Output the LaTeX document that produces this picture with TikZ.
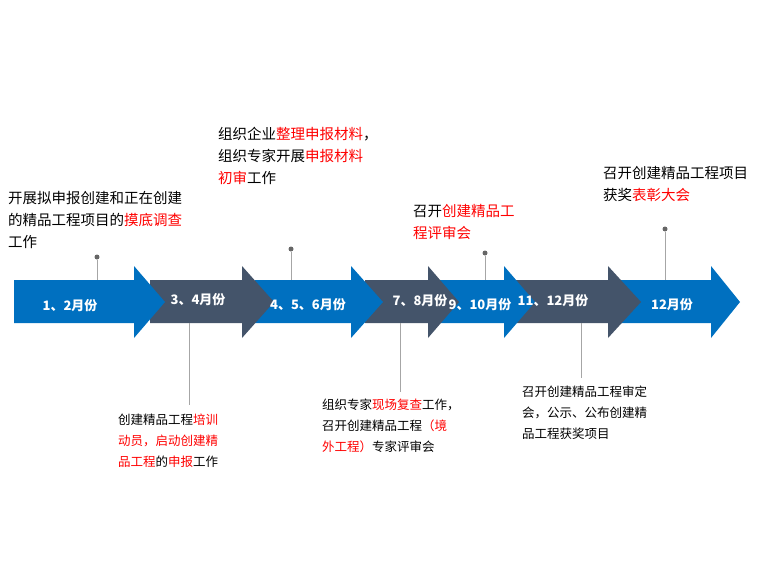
\documentclass[tikz,border=0pt]{standalone}
\usepackage{fontspec}
\setmainfont{Noto Sans CJK SC}
\usetikzlibrary{positioning}
\definecolor{tlblue}{HTML}{0070C0}
\definecolor{tldark}{HTML}{44546A}
\definecolor{tlred}{HTML}{FF0000}
\newcommand{\hl}[1]{\textcolor{tlred}{#1}}
% body start, head start, tip, colour
\newcommand{\tlarrow}[4]{%
  \fill[#4] (#1,280) -- (#2,280) -- (#2,266) -- (#3,302) -- (#2,338) -- (#2,323) -- (#1,323) -- cycle;}
\begin{document}
\begin{tikzpicture}[x=1pt,y=-1pt,
  month/.style={text=white,font=\fontsize{13}{15}\selectfont\bfseries},
  note/.style={anchor=north west,align=left,inner sep=0pt,font=\fontsize{14.5}{22}\selectfont},
  small/.style={anchor=north west,align=left,inner sep=0pt,font=\fontsize{12.5}{21}\selectfont},
  stem/.style={draw=gray!70,line width=0.8pt},
  dot/.style={circle,fill=gray!80!black,inner sep=0pt,minimum size=5pt}]
\useasboundingbox (0,0) rectangle (760,570);

% arrows, last one first
\tlarrow{620}{711}{740}{tlblue}
\tlarrow{515}{608}{641}{tldark}
\tlarrow{440}{504}{535}{tlblue}
\tlarrow{365}{428}{459}{tldark}
\tlarrow{255}{351}{383}{tlblue}
\tlarrow{150}{242}{274}{tldark}
\tlarrow{14}{134}{165}{tlblue}

% month labels
\node[month] (m12a) at (70,306) {1、2月份};
\node[month] (m34) at (198,300) {3、4月份};
\node[month] (m456) at (308,305) {4、5、6月份};
\node[month] (m78) at (420,301) {7、8月份};
\node[month] (m910) at (480,305) {9、10月份};
\node[month] (m1112) at (553,301) {11、12月份};
\node[month] (m12) at (672,305) {12月份};

% stems above
\node[dot] (d1) at (97,257) {};
\node[dot] (d2) at (291,249) {};
\node[dot] (d3) at (485,253) {};
\node[dot] (d4) at (665,229) {};
\draw[stem] (d1) -- (97,280);
\draw[stem] (d2) -- (291,280);
\draw[stem] (d3) -- (485,280);
\draw[stem] (d4) -- (665,280);

% stems below
\draw[stem] (189,323) -- (189,405);
\draw[stem] (400,323) -- (400,392);
\draw[stem] (581,323) -- (581,378);

% notes
\node[note] (n1) at (8,191) {开展拟申报创建和正在创建\\的精品工程项目的\hl{摸底调查}\\工作};
\node[note] (n2) at (218,127) {组织企业\hl{整理申报材料}，\\组织专家开展\hl{申报材料}\\\hl{初审}工作};
\node[note] (n3) at (413,204) {召开\hl{创建精品工}\\\hl{程评审会}};
\node[note] (n4) at (603,166) {召开创建精品工程项目\\获奖\hl{表彰大会}};
\node[small] (n5) at (118,414) {创建精品工程\hl{培训}\\\hl{动员，启动创建精}\\\hl{品工程}的\hl{申报}工作};
\node[small] (n6) at (322,399) {组织专家\hl{现场复查}工作，\\召开创建精品工程\hl{（境}\\\hl{外工程）}专家评审会};
\node[small] (n7) at (522,386) {召开创建精品工程审定\\会，公示、公布创建精\\品工程获奖项目};
\end{tikzpicture}
\end{document}
